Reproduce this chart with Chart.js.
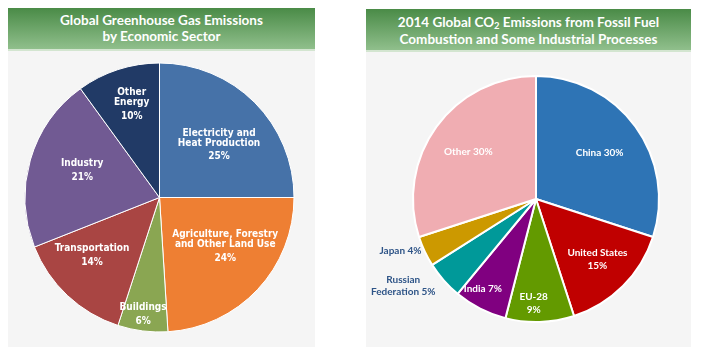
<!DOCTYPE html>
<html><head><meta charset="utf-8">
<script src="https://cdn.jsdelivr.net/npm/chart.js@4.4.1/dist/chart.umd.min.js"></script>
<style>
body{margin:0;background:#fff;width:703px;height:357px;overflow:hidden;position:relative;font-family:Lato,"Open Sans",sans-serif}
.panel{position:absolute;background:#f5f5f5}
.hdr{position:absolute;left:0;top:0;right:0;background:linear-gradient(#4a8b47,#90bf8c);border-bottom:2px solid #d3e5d0;color:#fff;font-weight:bold;text-align:center;box-sizing:border-box}
canvas{position:absolute;left:0}
sub{font-size:70%;vertical-align:-2px;line-height:0}
</style></head><body>
<div class="panel" style="left:8px;top:8px;width:307px;height:339px">
  <div class="hdr" style="height:43px;font-size:13.5px;line-height:16px;padding-top:4px">Global Greenhouse Gas Emissions<br>by Economic Sector</div>
  <canvas id="c1" width="307" height="296" style="top:43px;width:307px;height:296px"></canvas>
</div>
<div class="panel" style="left:366px;top:9px;width:325px;height:338px">
  <div class="hdr" style="height:43px;font-size:13.5px;line-height:17px;padding-top:5px">2014 Global CO<sub>2</sub> Emissions from Fossil Fuel<br>Combustion and Some Industrial Processes</div>
  <canvas id="c2" width="325" height="295" style="top:43px;width:325px;height:295px"></canvas>
</div>
<script>
// ---- data ----
const sectorNames = ["Electricity and Heat Production", "Agriculture, Forestry and Other Land Use", "Buildings", "Transportation", "Industry", "Other Energy"];
const sectorValues = [25, 24, 6, 14, 21, 10];
const sectorLabelLines = [["Electricity and", "Heat Production"], ["Agriculture, Forestry", "and Other Land Use"], ["Buildings"], ["Transportation"], ["Industry"], ["Other", "Energy"]];
const sectorColors = ["#4672a8", "#ee7f33", "#8aa652", "#a94543", "#715a93", "#213a66"];

const countryNames = ["China", "United States", "EU-28", "India", "Russian Federation", "Japan", "Other"];
const countryValues = [30, 15, 9, 7, 5, 4, 30];
const countryLabelText = ["China {v}%", "United States\n{v}%", "EU-28\n{v}%", "India {v}%", "Russian\nFederation {v}%", "Japan {v}%", "Other {v}%"];
const countryColors = ["#2e74b5", "#c00000", "#639a00", "#800080", "#009999", "#cc9900", "#f0adb2"];

// label placement: [fraction of radius, angle offset in degrees]
const sectorPlace = [[0.59, 3.6], [0.61, -6.4], [0.88, 0.8], [0.66, 6.2], [0.61, 3.3], [0.72, 1.3]];
const countryPlace = [[0.64, 0], [0.70, -0.5], [0.85, 3.1], [0.85, 3.5], [1.29, 8.2], [1.18, 4.2], [0.67, -1.2]];
const countryOutside = [false, false, false, false, true, true, false];

const labelPlugin = {
  id: 'sliceLabels',
  afterDatasetsDraw(chart, args, opts) {
    const ctx = chart.ctx;
    const meta = chart.getDatasetMeta(0);
    ctx.save();
    ctx.font = opts.font;
    if (opts.stretch && 'fontStretch' in ctx) ctx.fontStretch = opts.stretch;
    ctx.textAlign = 'center';
    ctx.textBaseline = 'middle';
    meta.data.forEach((arc, i) => {
      const p = arc.getProps(['x', 'y', 'startAngle', 'endAngle', 'outerRadius'], true);
      const pl = opts.place[i];
      const a = (p.startAngle + p.endAngle) / 2 + pl[1] * Math.PI / 180;
      const r = p.outerRadius * pl[0];
      const cx = p.x + Math.cos(a) * r, cy = p.y + Math.sin(a) * r;
      const lines = opts.lines(i);
      const gaps = opts.gaps(lines.length);
      const total = gaps.reduce((s, g) => s + g, 0);
      let y = cy - total / 2;
      ctx.fillStyle = opts.color(i);
      lines.forEach((ln, k) => {
        ctx.fillText(ln, cx, y);
        y += gaps[k] || 0;
      });
    });
    ctx.restore();
  }
};

new Chart(document.getElementById('c1'), {
  type: 'pie',
  data: { labels: sectorNames, datasets: [{ data: sectorValues, backgroundColor: sectorColors, borderColor: '#ffffff', borderWidth: 1 }] },
  options: {
    responsive: false, animation: false,
    layout: { padding: { left: 16.5, right: 20.5, top: 11.5, bottom: 14.5 } },
    plugins: {
      legend: { display: false }, tooltip: { enabled: false },
      sliceLabels: {
        font: 'bold 10px "DejaVu Sans Condensed", "DejaVu Sans"',
        stretch: 'condensed',
        place: sectorPlace,
        lines: i => sectorLabelLines[i].concat([sectorValues[i] + '%']),
        gaps: n => { const g = []; for (let k = 0; k < n - 2; k++) g.push(10); g.push(13.7); return g; },
        color: () => '#ffffff'
      }
    }
  },
  plugins: [labelPlugin]
});

new Chart(document.getElementById('c2'), {
  type: 'pie',
  data: { labels: countryNames, datasets: [{ data: countryValues, backgroundColor: countryColors, borderColor: '#ffffff', borderWidth: 2 }] },
  options: {
    responsive: false, animation: false,
    layout: { padding: { left: 46, right: 31, top: 23, bottom: 24 } },
    plugins: {
      legend: { display: false }, tooltip: { enabled: false },
      sliceLabels: {
        font: 'bold 10px Lato',
        place: countryPlace,
        lines: i => countryLabelText[i].replace('{v}', countryValues[i]).split('\n'),
        gaps: n => { const g = []; for (let k = 0; k < n - 1; k++) g.push(12.5); return g; },
        color: i => countryOutside[i] ? '#2e5487' : '#ffffff'
      }
    }
  },
  plugins: [labelPlugin]
});
</script>
</body></html>
